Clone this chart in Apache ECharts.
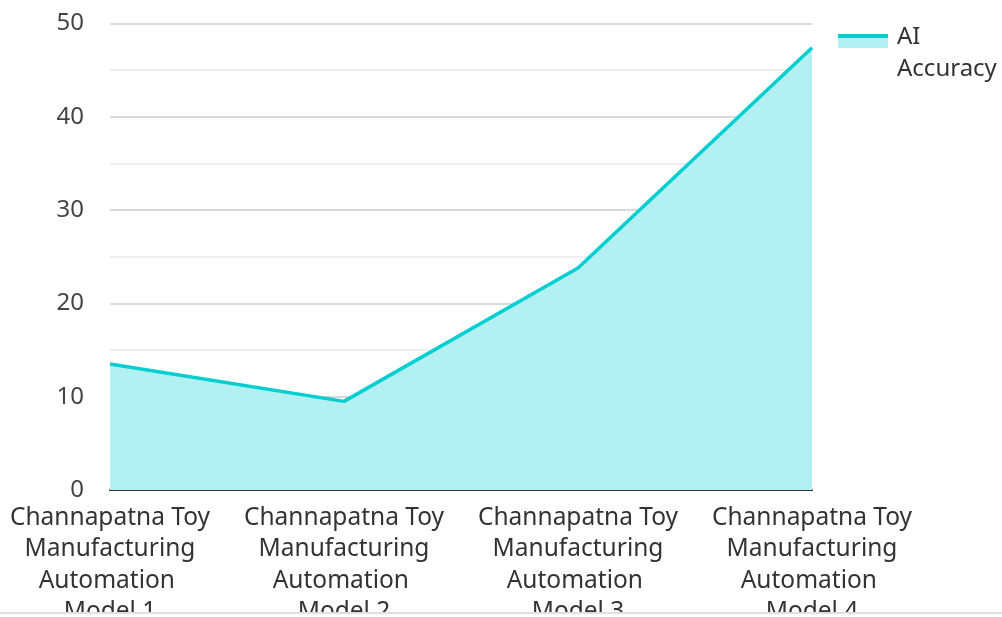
<!DOCTYPE html>
<html>
<head>
<meta charset="utf-8">
<script src="https://cdn.jsdelivr.net/npm/echarts@6/dist/echarts.min.js"></script>
<style>
html,body{margin:0;padding:0;background:#fff;}
#wrap{width:1002px;height:612px;border-bottom:2px solid #e0e0e0;overflow:hidden;}
#chart{width:1002px;height:612px;}
</style>
</head>
<body>
<div id="wrap"><div id="chart"></div></div>
<script>
const categories = [
  "Channapatna Toy Manufacturing Automation Model 1",
  "Channapatna Toy Manufacturing Automation Model 2",
  "Channapatna Toy Manufacturing Automation Model 3",
  "Channapatna Toy Manufacturing Automation Model 4"
];
const seriesName = "AI Accuracy";
const accuracy = [13.5, 9.5, 23.8, 47.4];

const LINE = '#00CED1';
const AREA = '#b2f0f1';

const chart = echarts.init(document.getElementById('chart'));
chart.setOption({
  animation: false,
  textStyle: { fontFamily: 'Noto Sans' },
  grid: { left: 110, right: 190, top: 23.5, bottom: 122, containLabel: false, outerBoundsMode: 'none' },
  legend: {
    left: 833, top: 16,
    orient: 'vertical',
    itemWidth: 50, itemHeight: 64,
    icon: 'rect',
    itemStyle: {
      color: new echarts.graphic.LinearGradient(0, 0, 0, 1, [
        { offset: 0, color: 'rgba(255,255,255,0)' },
        { offset: 0.203, color: 'rgba(255,255,255,0)' },
        { offset: 0.203, color: LINE },
        { offset: 0.266, color: LINE },
        { offset: 0.266, color: AREA },
        { offset: 0.422, color: AREA },
        { offset: 0.422, color: 'rgba(255,255,255,0)' },
        { offset: 1, color: 'rgba(255,255,255,0)' }
      ]),
      borderWidth: 0
    },
    lineStyle: { opacity: 0 },
    formatter: n => n.replace(' ', '\n'),
    textStyle: { fontSize: 24, color: '#333', lineHeight: 32, fontFamily: 'Noto Sans', padding: [0, 0, 0, 4] }
  },
  xAxis: {
    type: 'category',
    data: categories,
    boundaryGap: false,
    axisLine: { lineStyle: { color: '#333', width: 2 } },
    axisTick: { show: false },
    axisLabel: {
      interval: 0, fontSize: 24.5, color: '#333', lineHeight: 31.5, margin: 12,
      width: 206, overflow: 'break', fontFamily: 'Noto Sans'
    }
  },
  yAxis: {
    type: 'value', min: 0, max: 50, interval: 10,
    axisLine: { show: false }, axisTick: { show: false },
    axisLabel: { fontSize: 24, color: '#444', margin: 26, fontFamily: 'Noto Sans' },
    splitLine: { lineStyle: { color: '#ccc', width: 1.5 } },
    minorTick: { show: false, splitNumber: 2 },
    minorSplitLine: { show: true, lineStyle: { color: '#eaeaea', width: 1.5 } }
  },
  series: [{
    name: seriesName,
    type: 'line',
    data: accuracy,
    symbol: 'none',
    lineStyle: { color: LINE, width: 3.5 },
    itemStyle: { color: LINE },
    areaStyle: { color: AREA, opacity: 1 }
  }]
});
</script>
</body>
</html>
